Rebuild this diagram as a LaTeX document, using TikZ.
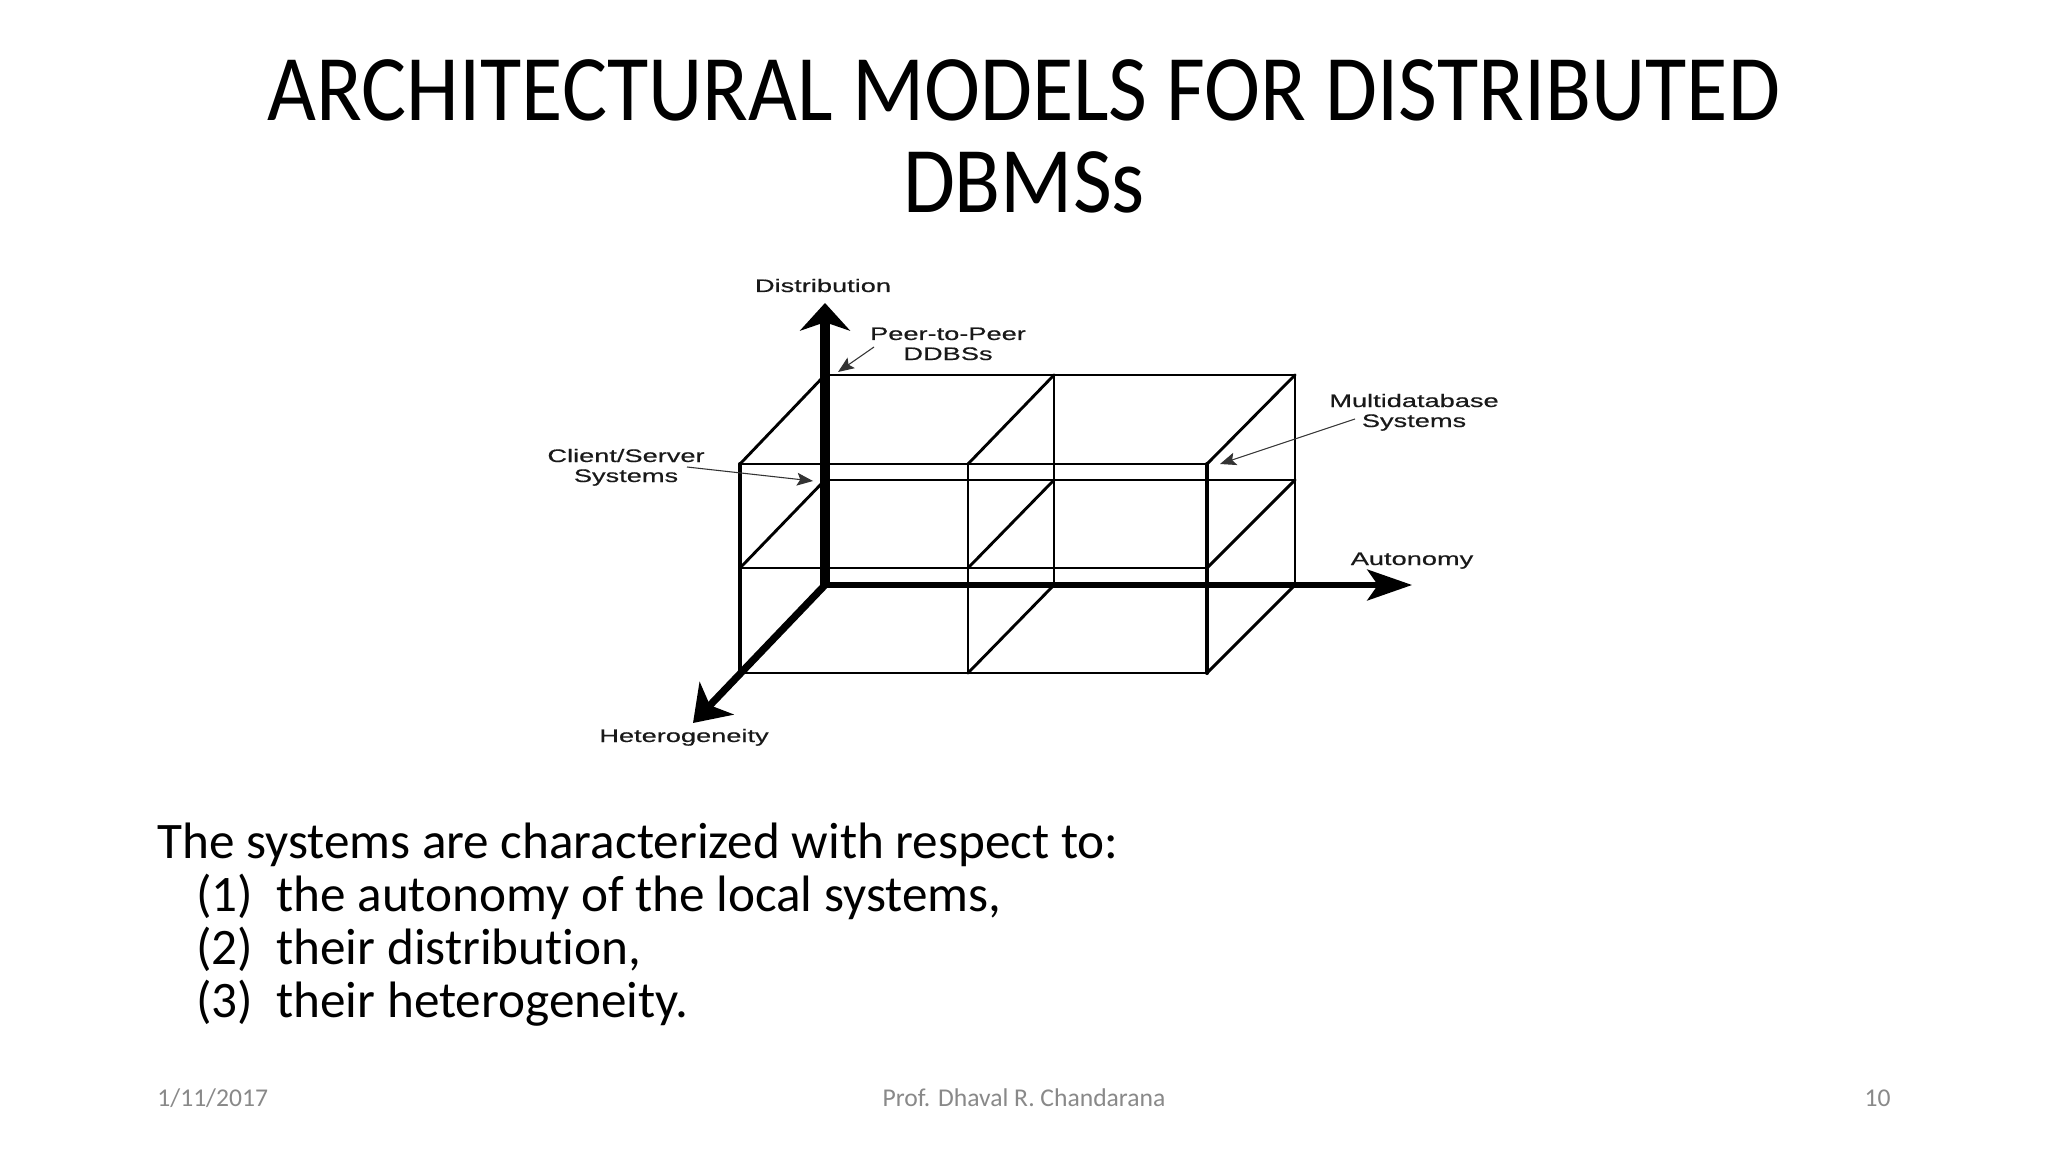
\documentclass[tikz,border=0pt]{standalone}
\usepackage{fontspec}
\setmainfont{Carlito}[Ligatures={NoCommon}]
\newfontfamily\titlefont[FakeStretch=0.9,Ligatures={NoCommon}]{Carlito}
\newfontfamily\lblfont[FakeStretch=1.5,FakeBold=0.5]{Liberation Sans}
\usetikzlibrary{arrows.meta}
\definecolor{footgray}{RGB}{137,137,137}
\definecolor{lblgray}{RGB}{25,25,25}
\begin{document}
\begin{tikzpicture}[x=0.46875pt,y=-0.46875pt,
  gridline/.style={line width=1.35pt, line cap=round, line join=round},
  edgeline/.style={line width=1.9pt, line cap=round},
  lbl/.style={inner sep=0pt, anchor=base, text=lblgray, font=\lblfont\fontsize{8.5}{10}\selectfont},
  note/.style={draw=black!80, line width=0.5pt, -{Stealth[length=7.5pt,width=6pt,inset=1.5pt]}},
  titletext/.style={inner sep=0pt, anchor=base, font=\titlefont\fontsize{44}{50}\selectfont},
  bodytext/.style={inner sep=0pt, anchor=base west, font=\fontsize{24}{28}\selectfont},
  foottext/.style={inner sep=0pt, text=footgray, font=\fontsize{12}{14}\selectfont}]
\useasboundingbox (0,0) rectangle (2048,1152);
\fill[white] (0,0) rectangle (2048,1152);

% title
\node[titletext] (title1) at (1024,121) {ARCHITECTURAL MODELS FOR DISTRIBUTED};
\node[titletext] (title2) at (1024,213) {DBMSs};

% grid points: front face
\coordinate (F00) at (740,673); \coordinate (F10) at (968,673); \coordinate (F20) at (1207,673);
\coordinate (F01) at (740,568); \coordinate (F11) at (968,568); \coordinate (F21) at (1207,568);
\coordinate (F02) at (740,464); \coordinate (F12) at (968,464); \coordinate (F22) at (1207,464);
% back face
\coordinate (B00) at (825,585); \coordinate (B10) at (1054,585); \coordinate (B20) at (1295,585);
\coordinate (B01) at (825,480); \coordinate (B11) at (1054,480); \coordinate (B21) at (1295,480);
\coordinate (B02) at (825,375); \coordinate (B12) at (1054,375); \coordinate (B22) at (1295,375);
% axis tips
\coordinate (Dtip) at (825,303);
\coordinate (Atip) at (1412,585);
\coordinate (Htip) at (693,723);

% back face lines
\draw[gridline] (B01) -- (B21);
\draw[gridline] (B02) -- (B22);
\draw[gridline] (B10) -- (B12);
\draw[gridline] (B20) -- (B22);
% depth lines
\draw[gridline] (F10) -- (B10);
\draw[gridline] (F20) -- (B20);
\draw[gridline] (F01) -- (B01);
\draw[gridline] (F11) -- (B11);
\draw[gridline] (F21) -- (B21);
\draw[gridline] (F02) -- (B02);
\draw[gridline] (F12) -- (B12);
\draw[gridline] (F22) -- (B22);
% front face lines
\draw[gridline] (F00) -- (F20);
\draw[gridline] (F01) -- (F21);
\draw[gridline] (F02) -- (F22);
\draw[gridline] (F10) -- (F12);
\draw[edgeline] (F00) -- (F02);
\draw[edgeline] (F20) -- (F22);

% axes
\draw[line width=2.4pt, -{Stealth[length=21pt,width=14.5pt,inset=5pt]}] (B00) -- (Atip);
\draw[line width=3.4pt, -{Stealth[length=16pt,width=22pt,inset=4.5pt]}] (B00) -- (Htip);
\draw[line width=4.4pt, -{Stealth[length=13pt,width=23.5pt,inset=4pt]}] (B00) -- (Dtip);

% axis labels
\node[lbl] (dist) at (823,292) {Distribution};
\node[lbl] (auto) at (1412,565) {Autonomy};
\node[lbl] (hetero) at (684,742) {Heterogeneity};

% system labels
\node[lbl] (peer1) at (948,340) {Peer-to-Peer};
\node[lbl] (peer2) at (948,360) {DDBSs};
\node[lbl] (cs1) at (626,462) {Client/Server};
\node[lbl] (cs2) at (626,482) {Systems};
\node[lbl] (mdb1) at (1414,407) {Multidatabase};
\node[lbl] (mdb2) at (1414,427) {Systems};

% annotation arrows
\coordinate (peerTail) at (874,347); \coordinate (peerTip) at (838,372);
\coordinate (csTail) at (687,467);   \coordinate (csTip) at (813,481);
\coordinate (mdbTail) at (1355,419); \coordinate (mdbTip) at (1220,464);
\draw[note] (peerTail) -- (peerTip);
\draw[note] (csTail) -- (csTip);
\draw[note] (mdbTail) -- (mdbTip);

% body text
\node[bodytext] (b0) at (157,858) {The systems are characterized with respect to:};
\node[bodytext] (n1) at (196,911) {(1)};
\node[bodytext] (b1) at (276,911) {the autonomy of the local systems,};
\node[bodytext] (n2) at (196,964) {(2)};
\node[bodytext] (b2) at (276,964) {their distribution,};
\node[bodytext] (n3) at (196,1017) {(3)};
\node[bodytext] (b3) at (276,1017) {their heterogeneity.};

% footer
\node[foottext, anchor=base west] (date) at (157,1106) {1/11/2017};
\node[foottext, anchor=base] (author) at (1024,1106) {Prof. Dhaval R. Chandarana};
\node[foottext, anchor=base east] (page) at (1891,1106) {10};
\end{tikzpicture}
\end{document}
